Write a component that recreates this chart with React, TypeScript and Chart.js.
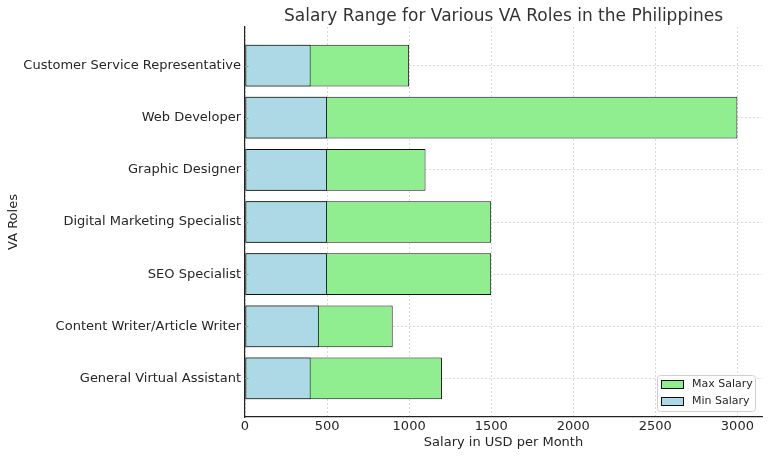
import { useEffect, useRef } from 'react';
import { Chart, registerables } from 'chart.js';
Chart.register(...registerables);

const ROLES = [
  'Customer Service Representative',
  'Web Developer',
  'Graphic Designer',
  'Digital Marketing Specialist',
  'SEO Specialist',
  'Content Writer/Article Writer',
  'General Virtual Assistant'
];
const MIN_SALARY = [400, 500, 500, 500, 500, 450, 400];
const MAX_SALARY = [1000, 3000, 1100, 1500, 1500, 900, 1200];
const X_TICKS = [0, 500, 1000, 1500, 2000, 2500, 3000];

const TEXT = '#262626';
const FONT = 'DejaVu Sans';

// title over the plot area + legend inside the lower right corner + small inward y ticks
const extras = {
  id: 'extras',
  afterDraw(chart: any) {
    const { ctx, chartArea } = chart;
    ctx.save();

    ctx.fillStyle = '#333';
    ctx.font = `17px "${FONT}"`;
    ctx.textAlign = 'center';
    ctx.textBaseline = 'alphabetic';
    ctx.fillText('Salary Range for Various VA Roles in the Philippines', (chartArea.left + chartArea.right) / 2, 21);

    const yScale = chart.scales.y;
    ctx.strokeStyle = '#999';
    ctx.lineWidth = 1;
    yScale.ticks.forEach((t: any) => {
      const y = Math.round(yScale.getPixelForValue(t.value)) + 0.5;
      ctx.beginPath();
      ctx.moveTo(chartArea.left, y);
      ctx.lineTo(chartArea.left + 3.5, y);
      ctx.stroke();
    });

    const boxW = 98, boxH = 36;
    const bx = chartArea.right - 7 - boxW;
    const by = chartArea.bottom - 6 - boxH;
    ctx.fillStyle = 'rgba(255,255,255,0.85)';
    ctx.strokeStyle = '#d0d0d0';
    ctx.beginPath();
    ctx.roundRect(bx + 0.5, by + 0.5, boxW, boxH, 3);
    ctx.fill();
    ctx.stroke();

    ctx.font = `11px "${FONT}"`;
    ctx.textAlign = 'left';
    ctx.textBaseline = 'middle';
    chart.data.datasets.forEach((ds: any, i: number) => {
      const cy = by + 9.5 + i * 17;
      ctx.fillStyle = ds.backgroundColor;
      ctx.fillRect(bx + 4.5, cy - 4, 22, 8);
      ctx.strokeStyle = '#111';
      ctx.strokeRect(bx + 4.5, cy - 4, 22, 8);
      ctx.fillStyle = TEXT;
      ctx.fillText(ds.label, bx + 35, cy);
    });
    ctx.restore();
  }
};

function SalaryChart() {
  const canvasRef = useRef<HTMLCanvasElement>(null);
  const chartRef = useRef<Chart | null>(null);

  useEffect(() => {
    if (!canvasRef.current) return;
    if (chartRef.current) chartRef.current.destroy();

    const gridColor = 'rgba(160,160,160,0.5)';

    chartRef.current = new Chart(canvasRef.current, {
      type: 'bar',
      data: {
        datasets: [
          {
            label: 'Max Salary',
            data: MAX_SALARY.map((v, i) => ({ x: v, y: i })),
            backgroundColor: '#90EE90',
            order: 1
          },
          {
            label: 'Min Salary',
            data: MIN_SALARY.map((v, i) => ({ x: v, y: i })),
            backgroundColor: '#ADD8E6',
            order: 0
          }
        ]
      },
      options: {
        indexAxis: 'y',
        animation: false,
        responsive: true,
        maintainAspectRatio: false,
        datasets: {
          bar: {
            grouped: false,
            barPercentage: 0.8,
            categoryPercentage: 1,
            borderColor: '#111',
            borderWidth: 1,
            borderSkipped: false
          }
        },
        layout: { padding: { top: 27, right: 6, left: 0, bottom: 0 } },
        plugins: {
          legend: { display: false },
          title: { display: false },
          tooltip: { enabled: false }
        },
        scales: {
          x: {
            type: 'linear',
            min: 0,
            max: 3150,
            z: 1,
            afterBuildTicks: (s: any) => { s.ticks = X_TICKS.map(v => ({ value: v })); },
            afterFit: (s: any) => { s.height = 41; },
            ticks: {
              color: TEXT,
              font: { family: FONT, size: 13 },
              padding: 2,
              maxRotation: 0,
              callback: (v: any) => String(v)
            },
            grid: { color: gridColor, lineWidth: 0.8, drawTicks: false },
            border: { display: true, color: '#222', width: 1.2, dash: [2, 2] },
            title: {
              display: true,
              text: 'Salary in USD per Month',
              color: TEXT,
              font: { family: FONT, size: 13 },
              padding: { top: 0, bottom: 8 }
            }
          },
          y: {
            type: 'linear',
            reverse: true,
            min: -0.74,
            max: 6.74,
            offset: false,
            z: 1,
            afterBuildTicks: (s: any) => { s.ticks = ROLES.map((_, i) => ({ value: i })); },
            afterFit: (s: any) => { s.width = 245; },
            ticks: {
              color: TEXT,
              font: { family: FONT, size: 13 },
              padding: 4,
              callback: (v: any) => ROLES[v as number] ?? ''
            },
            grid: { color: gridColor, lineWidth: 0.8, drawTicks: false, offset: false },
            border: { display: true, color: '#222', width: 1.2, dash: [2, 2] },
            title: {
              display: true,
              text: 'VA Roles',
              color: TEXT,
              font: { family: FONT, size: 13 },
              padding: { top: 6, bottom: 0 }
            }
          }
        }
      },
      plugins: [extras]
    });

    return () => {
      if (chartRef.current) {
        chartRef.current.destroy();
        chartRef.current = null;
      }
    };
  }, []);

  return (
    <div style={{ position: 'fixed', left: 0, top: 0, width: 768, height: 458, background: '#fff' }}>
      <canvas ref={canvasRef} />
    </div>
  );
}

export default function App() {
  return <SalaryChart />;
}
